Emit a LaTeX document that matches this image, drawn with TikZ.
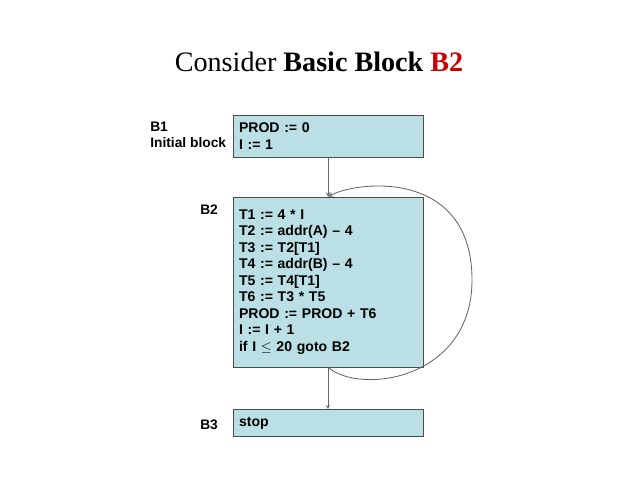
\documentclass[tikz,border=0pt]{standalone}
\usepackage{fontspec}
\setmainfont{Liberation Sans}
\newfontfamily\titlefont{Liberation Serif}
\usetikzlibrary{positioning}
\definecolor{blockfill}{HTML}{BADFE4}
\begin{document}
\begin{tikzpicture}[
  x=0.025cm, y=-0.025cm,
  block/.style={draw=black!70, fill=blockfill, minimum width=190*0.025cm,
    text width=178*0.025cm, align=left, inner sep=0pt, font=\bfseries\fontsize{10}{11.7}\selectfont},
  lbl/.style={align=left, inner sep=0pt, font=\bfseries\fontsize{9.8}{11.7}\selectfont},
  flow/.style={draw=black!60, ->, >=stealth}
]
\useasboundingbox (0,0) rectangle (638,478);

% --- title ---
\node[font=\titlefont\fontsize{20}{24}\selectfont] (title) at (319,62)
  {Consider \textbf{Basic Block} \textbf{\color{red!80!black}B2}};

% --- blocks ---
\node[block, minimum height=42*0.025cm] (B1) at (328,136) {PROD := 0\\I := 1};
\node[block, minimum height=170*0.025cm] (B2) at (328,282)
  {T1 := 4 * I\\T2 := addr(A) -- 4\\T3 := T2[T1]\\T4 := addr(B) -- 4\\T5 := T4[T1]\\T6 := T3 * T5\\PROD := PROD + T6\\I := I + 1\\if I $\leq$ 20 goto B2};
\node[block, minimum height=27*0.025cm] (B3) at (328,423) {stop};

% --- labels ---
\node[lbl, anchor=west] (L1) at (150,135) {B1\\Initial block};
\node[lbl, anchor=west] (L2) at (200,210) {B2};
\node[lbl, anchor=west] (L3) at (200,425) {B3};

% --- edges ---
\draw[flow] (B1) -- (B2);
\draw[flow] (B2) -- (B3);
\draw[flow, semithick] (B2.south) .. controls (360,395) and (472,380) .. (472,280)
  .. controls (472,170) and (360,180) .. (B2.north);

\end{tikzpicture}
\end{document}
